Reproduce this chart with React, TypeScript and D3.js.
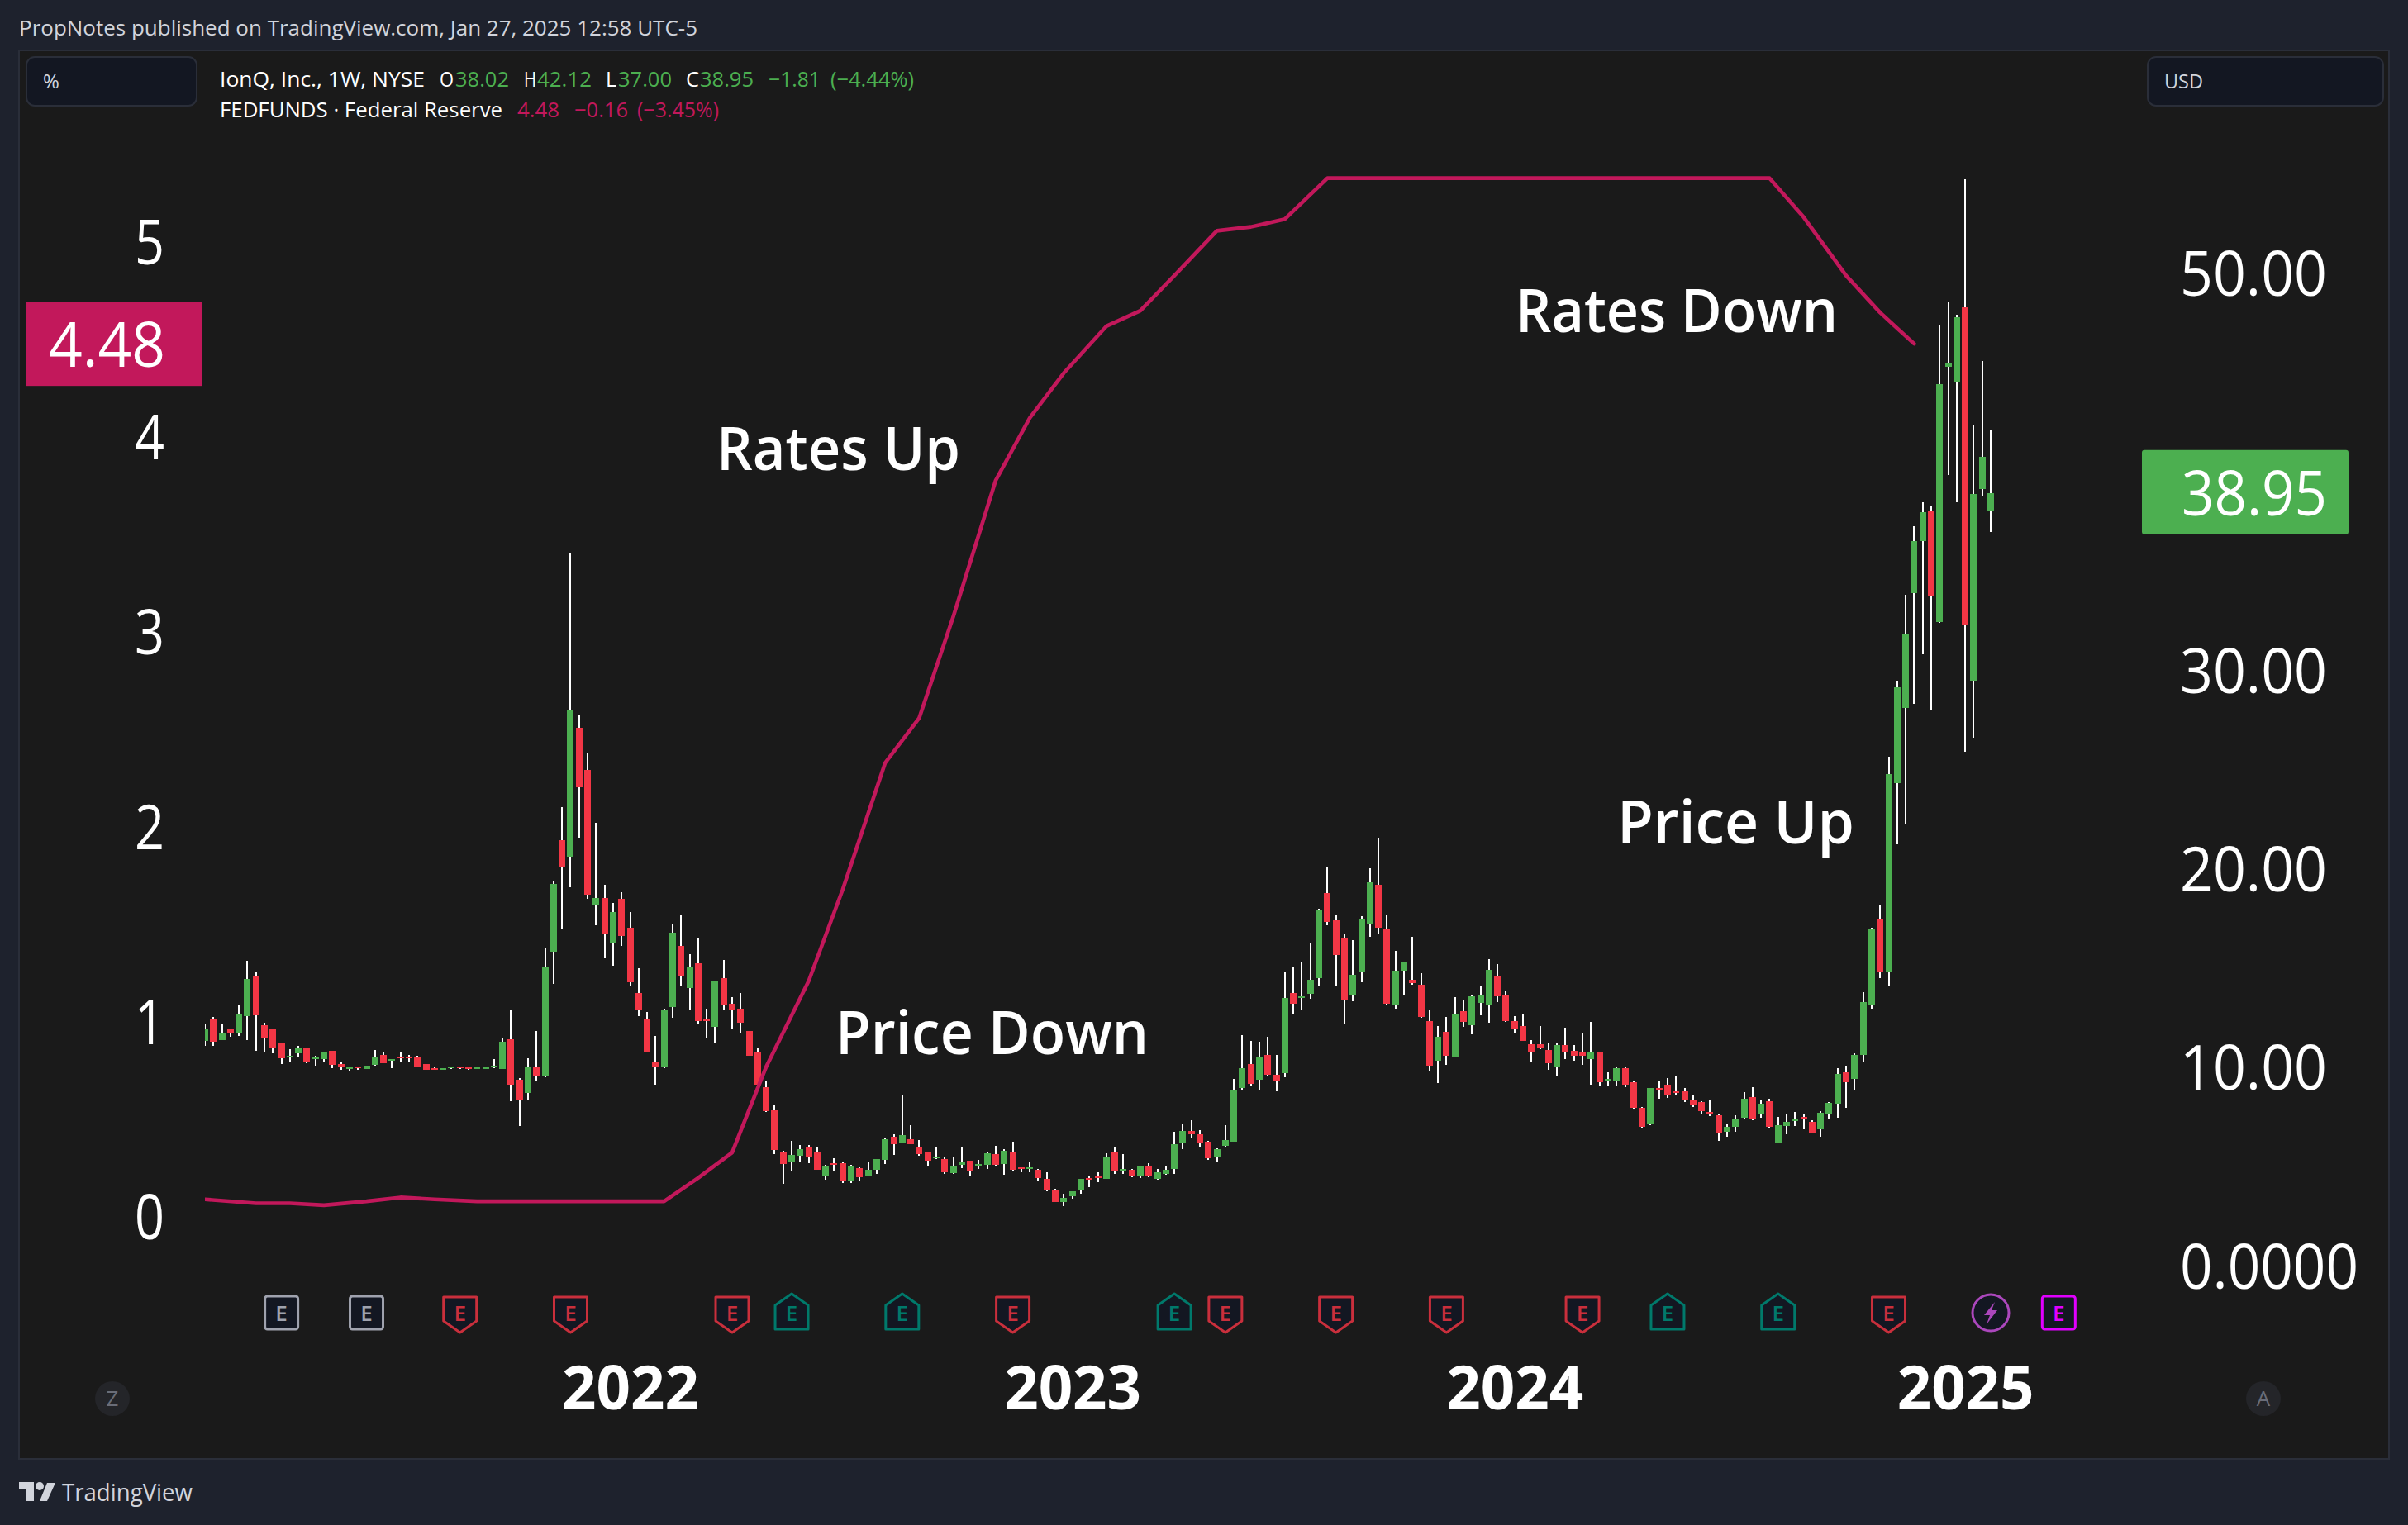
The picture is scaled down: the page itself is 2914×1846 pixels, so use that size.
import * as d3 from "d3";
import { useEffect, useRef } from "react";

const W = 2914;
const H = 1846;
const FONT = "'Open Sans', 'Noto Sans', sans-serif";

// weekly IONQ candles
const opens = [
  11.36,12.48,11.40,11.98,11.78,12.60,14.61,12.14,11.94,11.22,
  10.53,10.73,10.98,10.45,10.45,10.87,10.19,9.95,10.07,9.95,
  10.15,10.65,10.37,10.57,10.57,10.53,10.19,9.99,9.91,9.99,
  10.07,10.03,9.95,9.95,10.03,9.95,11.44,9.39,8.74,10.07,
  9.57,15.84,21.47,20.63,27.12,24.99,18.19,18.55,16.26,18.51,
  17.05,13.77,12.44,10.31,10.02,13.06,16.14,14.02,15.26,12.44,
  12.06,14.52,13.23,12.98,11.85,10.81,9.02,7.86,5.74,5.24,
  5.57,6.03,5.74,4.57,5.20,5.20,4.28,4.95,4.57,4.87,
  5.36,6.53,6.20,6.40,5.99,5.78,5.45,5.41,4.70,5.11,
  5.32,5.07,5.11,5.66,5.16,5.78,4.99,4.91,4.87,4.41,
  3.87,3.24,3.53,3.83,4.45,4.53,4.41,5.78,4.82,4.87,
  4.53,5.07,4.41,4.66,4.91,6.24,6.82,6.65,6.28,5.49,
  6.07,6.28,8.98,10.19,9.40,10.65,9.65,9.73,13.77,13.52,
  13.73,14.52,18.80,17.43,16.55,13.68,14.81,17.22,19.22,17.01,
  13.18,14.89,14.43,14.18,12.35,10.36,11.81,10.56,12.85,12.14,
  13.27,13.14,14.60,13.68,12.35,12.10,11.19,11.19,10.90,10.06,
  11.15,10.86,10.81,10.44,10.77,9.36,9.32,9.98,9.27,7.98,
  7.15,8.98,9.15,8.82,8.82,8.40,8.28,7.78,7.61,6.78,
  7.03,7.49,8.53,7.65,8.32,6.24,7.07,7.32,7.53,7.28,
  6.90,7.65,8.19,9.77,9.44,10.65,13.18,17.51,14.85,24.33,
  28.11,33.90,36.53,38.02,32.45,45.30,44.55,48.29,29.49,39.14,
  38.02,
];
const closes = [
  11.98,11.32,11.78,11.78,12.74,14.47,12.66,11.48,11.02,10.49,
  10.61,11.02,10.31,10.53,10.77,10.15,10.03,10.03,9.99,10.11,
  10.57,10.23,10.45,10.49,10.49,10.07,9.91,9.91,9.99,10.07,
  9.99,9.95,10.03,10.03,10.11,11.32,9.15,8.36,10.07,9.61,
  15.06,19.26,20.10,27.99,24.14,18.72,18.55,16.71,17.85,16.64,
  14.31,12.89,10.81,10.02,12.89,16.80,14.64,15.10,12.35,12.35,
  14.35,13.14,12.94,12.27,10.61,9.15,7.82,5.86,5.16,5.61,
  5.91,5.49,4.87,5.03,5.11,4.32,5.07,4.49,4.87,5.41,
  6.40,6.16,6.61,6.16,5.66,5.32,5.53,4.74,5.07,5.28,
  4.82,5.16,5.70,5.11,5.82,4.87,4.91,4.99,4.45,3.83,
  3.24,3.45,3.78,4.41,4.37,4.45,5.49,4.78,4.91,4.53,
  5.03,4.53,4.74,4.87,6.16,6.82,6.65,6.20,5.45,5.90,
  6.36,8.86,9.98,9.19,10.56,9.65,9.32,13.52,13.23,13.60,
  14.43,17.93,17.34,15.68,13.39,14.68,17.51,19.34,17.05,13.23,
  14.89,15.31,14.27,12.56,10.11,11.56,10.61,12.69,12.31,13.60,
  13.68,14.93,13.60,12.35,11.94,11.35,10.81,10.98,10.23,11.15,
  10.77,10.61,10.61,10.81,9.27,9.44,9.98,9.15,7.98,7.03,
  8.98,8.90,8.65,8.73,8.40,8.11,7.82,7.65,6.70,7.03,
  7.40,8.44,7.40,8.19,7.03,7.11,7.28,7.40,7.44,6.74,
  7.74,8.23,9.69,9.27,10.65,13.31,16.97,14.81,24.79,29.17,
  31.83,36.53,37.98,33.78,44.43,45.50,47.79,32.27,38.90,40.77,
  38.95,
];
const highs = [
  12.20,12.56,12.20,11.98,13.19,15.38,14.85,12.28,11.94,11.22,
  10.94,11.10,11.02,10.61,10.83,10.87,10.27,10.03,10.07,10.11,
  10.91,10.77,10.45,10.83,10.65,10.61,10.19,10.03,9.99,10.07,
  10.07,10.03,10.03,10.07,10.45,11.48,12.93,9.49,10.49,11.86,
  16.02,19.38,23.12,35.89,27.80,25.87,22.35,19.22,18.31,18.84,
  17.84,15.02,12.81,11.60,12.98,17.22,17.68,15.72,16.55,12.98,
  14.35,15.43,13.56,13.77,11.85,11.02,9.36,8.11,5.82,6.32,
  6.11,6.11,6.03,5.11,5.45,5.28,5.11,4.99,5.24,5.41,
  6.45,6.65,8.61,7.11,6.36,5.78,5.99,5.53,5.49,5.99,
  5.32,5.36,5.74,6.07,5.91,6.28,4.99,5.24,4.91,4.74,
  3.91,3.66,3.78,4.41,4.53,4.74,5.70,5.99,5.66,4.91,
  5.03,5.20,4.91,5.07,6.78,7.19,7.36,6.86,6.32,5.95,
  7.11,9.44,11.65,11.36,11.31,11.56,10.65,14.81,15.06,15.35,
  16.30,18.01,20.13,17.72,16.76,16.43,17.64,20.05,21.59,17.68,
  15.89,15.35,16.60,14.77,12.89,12.10,12.56,13.56,13.39,13.64,
  14.10,15.47,15.22,13.89,12.60,12.73,11.40,12.10,11.23,11.23,
  12.02,11.15,11.73,12.31,10.77,9.77,10.02,10.06,9.36,8.03,
  8.98,9.32,9.48,9.57,8.98,8.61,8.32,8.36,7.65,7.19,
  7.61,8.78,9.02,8.36,8.44,7.53,7.65,7.78,7.65,7.36,
  7.82,8.28,9.98,10.11,10.73,13.81,17.05,18.22,25.66,29.49,
  33.82,37.26,38.48,38.28,47.43,48.59,47.93,54.73,42.34,45.60,
  42.12,
];
const lows = [
  11.10,11.10,11.40,11.56,11.60,11.40,10.87,10.77,10.73,10.19,
  10.31,10.57,10.23,10.11,10.27,9.99,9.91,9.87,9.91,9.95,
  10.11,10.23,9.99,10.31,10.31,10.03,9.91,9.91,9.91,9.95,
  9.95,9.91,9.95,9.95,9.99,9.95,8.32,7.06,8.40,9.35,
  9.53,14.23,17.01,19.10,21.59,18.50,17.17,15.52,15.14,16.14,
  14.10,12.60,10.77,9.15,9.99,12.52,14.14,12.89,12.19,11.52,
  11.23,12.94,11.98,11.73,10.61,8.82,7.78,5.66,4.16,4.82,
  5.28,5.20,4.87,4.37,4.82,4.20,4.20,4.28,4.57,4.66,
  5.16,5.61,6.20,6.16,5.57,5.07,5.42,4.66,4.66,4.95,
  4.53,4.91,4.91,5.03,4.62,4.78,4.74,4.74,4.32,3.78,
  3.24,3.03,3.41,3.66,3.99,4.24,4.41,4.66,4.66,4.49,
  4.45,4.49,4.37,4.62,4.66,5.90,6.49,5.99,5.36,5.28,
  5.99,6.28,8.90,9.07,8.90,9.61,8.82,9.52,12.69,12.94,
  13.48,14.14,17.18,14.10,12.19,13.35,14.31,16.60,16.76,13.18,
  12.98,13.68,14.18,12.52,9.86,9.23,10.15,10.52,12.06,11.69,
  12.64,12.27,13.31,12.31,11.77,11.35,10.31,10.94,9.90,9.61,
  10.44,10.36,10.15,9.15,9.07,9.07,9.11,9.02,7.94,6.99,
  7.11,8.44,8.48,8.65,8.28,8.03,7.65,7.57,6.32,6.53,
  6.78,7.44,7.36,7.49,6.94,6.20,6.65,7.07,6.90,6.70,
  6.53,7.40,7.49,7.98,8.86,10.31,12.98,14.52,14.14,21.27,
  22.25,28.33,30.82,28.03,32.41,39.85,38.48,25.92,26.62,38.82,
  37.00,
];

// FEDFUNDS monthly prints and the bar each one lands on
const fedBars = [0,6,10,14,19,23,27,32,36,41,45,50,54,58,62,66,71,75,80,84,88,93,97,101,106,110,114,119,123,127,132,136,141,145,149,154,158,162,166,171,175,180,184,188,193,197,201];
const fedRates = [0.09,0.07,0.07,0.06,0.08,0.10,0.09,0.08,0.08,0.08,0.08,0.08,0.08,0.20,0.33,0.77,1.21,1.68,2.33,2.56,3.08,3.78,4.10,4.33,4.57,4.65,4.83,5.06,5.08,5.12,5.33,5.33,5.33,5.33,5.33,5.33,5.33,5.33,5.33,5.33,5.33,5.33,5.33,5.13,4.83,4.64,4.48];

const yearBars = [50, 102, 154, 207];
const yearLabels = ["2022", "2023", "2024", "2025"];
const priceTicks = [50, 30, 20, 10, 0];
const priceLabels = ["50.00", "30.00", "20.00", "10.00", "0.0000"];
const rateTicks = [0, 1, 2, 3, 4, 5];

const neutralEarnings = [9, 19];
const missEarnings = [30, 43, 62, 95, 120, 133, 146, 162, 198];
const beatEarnings = [69, 82, 114, 172, 185];
const dividendBar = [210];
const nextEarnings = [218];

const notes = [
  { text: "Rates Up", x: 867, y: 569, len: 295 },
  { text: "Rates Down", x: 1834, y: 402, len: 390 },
  { text: "Price Down", x: 1011, y: 1276, len: 379 },
  { text: "Price Up", x: 1957, y: 1021, len: 287 },
];

const legendRow1 = [
  { t: "IonQ, Inc., 1W, NYSE", x: 266, len: 248, c: "#ffffff" },
  { t: "O", x: 532, len: 17, c: "#ffffff" },
  { t: "38.02", x: 551, len: 65, c: "#4caf50" },
  { t: "H", x: 634, len: 15, c: "#ffffff" },
  { t: "42.12", x: 650, len: 66, c: "#4caf50" },
  { t: "L", x: 733, len: 13, c: "#ffffff" },
  { t: "37.00", x: 748, len: 65, c: "#4caf50" },
  { t: "C", x: 830, len: 16, c: "#ffffff" },
  { t: "38.95", x: 847, len: 65, c: "#4caf50" },
  { t: "−1.81", x: 930, len: 63, c: "#4caf50" },
  { t: "(−4.44%)", x: 1005, len: 101, c: "#4caf50" },
];
const legendRow2 = [
  { t: "FEDFUNDS · Federal Reserve", x: 266, len: 342, c: "#ffffff" },
  { t: "4.48", x: 626, len: 51, c: "#c2185b" },
  { t: "−0.16", x: 695, len: 65, c: "#c2185b" },
  { t: "(−3.45%)", x: 771, len: 99, c: "#c2185b" },
];

export default function App() {
  const svgRef = useRef<SVGSVGElement>(null);

  useEffect(() => {
    if (!svgRef.current) return;
    const svg = d3.select(svgRef.current);
    svg.selectAll("*").remove();

    const xScale = d3.scaleLinear().domain([0, 210]).range([248, 2409]);
    const yPrice = d3.scaleLinear().domain([0, 50]).range([1533, 331]);
    const yRate = d3.scaleLinear().domain([0, 5]).range([1473, 293.5]);
    const px = (i: number) => Math.round(xScale(i));

    const label = (t: string, x: number, y: number, size: number, color: string, weight = 400, len?: number) => {
      const el = svg.append("text")
        .attr("x", x).attr("y", y)
        .attr("font-family", FONT).attr("font-size", size).attr("font-weight", weight)
        .attr("fill", color).text(t);
      if (len) el.attr("textLength", len).attr("lengthAdjust", "spacingAndGlyphs");
      return el;
    };

    // page and pane
    svg.append("rect").attr("width", W).attr("height", H).attr("fill", "#1e222d");
    svg.append("rect").attr("x", 23).attr("y", 61).attr("width", 2868).attr("height", 1705)
      .attr("fill", "#1a1a1a").attr("stroke", "#2a2e39").attr("stroke-width", 2);
    label("PropNotes published on TradingView.com, Jan 27, 2025 12:58 UTC-5", 23, 43, 25, "#d1d4dc", 400, 821);

    svg.append("defs").append("clipPath").attr("id", "pane")
      .append("rect").attr("x", 248).attr("y", 61).attr("width", 2643).attr("height", 1705);

    // scale buttons
    [[32, 206], [2599, 285]].forEach(([x, w]) => {
      svg.append("rect").attr("x", x).attr("y", 69).attr("width", w).attr("height", 59).attr("rx", 10)
        .attr("fill", "#131722").attr("stroke", "#2a2e39").attr("stroke-width", 2);
    });
    label("%", 52, 107, 24, "#d1d4dc");
    label("USD", 2619, 107, 24, "#d1d4dc", 500, 47);

    legendRow1.forEach((d) => label(d.t, d.x, 105, 25, d.c, 400, d.len));
    legendRow2.forEach((d) => label(d.t, d.x, 142, 25, d.c, 400, d.len));

    // candles
    const bars = d3.range(opens.length);
    const plot = svg.append("g").attr("clip-path", "url(#pane)");
    plot.append("g").attr("shape-rendering", "crispEdges").selectAll("rect").data(bars).join("rect")
      .attr("x", (i) => px(i) - 1).attr("width", 2)
      .attr("y", (i) => yPrice(highs[i]))
      .attr("height", (i) => yPrice(lows[i]) - yPrice(highs[i]))
      .attr("fill", "#ffffff");
    plot.append("g").attr("shape-rendering", "crispEdges").selectAll("rect").data(bars).join("rect")
      .attr("x", (i) => px(i) - 4).attr("width", 8)
      .attr("y", (i) => yPrice(Math.max(opens[i], closes[i])))
      .attr("height", (i) => Math.max(2, Math.abs(yPrice(opens[i]) - yPrice(closes[i]))))
      .attr("fill", (i) => (closes[i] >= opens[i] ? "#4caf50" : "#f23645"));

    // fed funds line
    const fedLine = d3.line<number>()
      .x((_, k) => xScale(fedBars[k]))
      .y((d) => yRate(d));
    plot.append("path").datum(fedRates)
      .attr("fill", "none").attr("stroke", "#c2185b").attr("stroke-width", 4.6)
      .attr("stroke-linejoin", "round").attr("stroke-linecap", "round")
      .attr("d", fedLine);

    // left, right and bottom axes
    const styleAxis = (g: any, size: number, weight: number, anchor: string) => {
      g.select(".domain").remove();
      g.selectAll("text").attr("font-family", FONT).attr("font-size", size)
        .attr("font-weight", weight).attr("fill", "#ffffff").attr("text-anchor", anchor);
    };
    const leftAxis = svg.append("g").attr("transform", "translate(181,0)")
      .call(d3.axisLeft(yRate).tickValues(rateTicks).tickSize(0).tickPadding(0).tickFormat(d3.format("d")));
    styleAxis(leftAxis, 75, 500, "middle");
    leftAxis.selectAll("text").attr("dy", "0.35em").attr("textLength", 36).attr("lengthAdjust", "spacingAndGlyphs");

    const rightAxis = svg.append("g").attr("transform", "translate(2638,0)")
      .call(d3.axisRight(yPrice).tickValues(priceTicks).tickSize(0).tickPadding(0)
        .tickFormat((_, k) => priceLabels[k]));
    styleAxis(rightAxis, 75, 500, "start");
    rightAxis.selectAll("text")
      .attr("dy", "0.35em")
      .attr("textLength", (_: any, k: number) => (k === 4 ? 216 : 178))
      .attr("lengthAdjust", "spacingAndGlyphs");

    const bottomAxis = svg.append("g").attr("transform", "translate(0,1706)")
      .call(d3.axisBottom(xScale).tickValues(yearBars).tickSize(0).tickPadding(0)
        .tickFormat((_, k) => yearLabels[k]));
    styleAxis(bottomAxis, 73, 700, "middle");
    bottomAxis.selectAll("text").attr("dy", 0).attr("y", 0)
      .attr("textLength", 166).attr("lengthAdjust", "spacingAndGlyphs");

    // last value tags
    svg.append("rect").attr("x", 32).attr("y", yRate(4.48) - 51).attr("width", 213).attr("height", 102)
      .attr("fill", "#c2185b");
    label("4.48", 59, yRate(4.48) + 28, 75, "#ffffff", 500, 141);
    svg.append("rect").attr("x", 2592).attr("y", yPrice(38.95) - 52).attr("width", 250).attr("height", 102).attr("rx", 3)
      .attr("fill", "#4caf50");
    label("38.95", 2640, yPrice(38.95) + 27, 75, "#ffffff", 500, 176);

    notes.forEach((n) => label(n.text, n.x, n.y, 73, "#ffffff", 600, n.len));

    // earnings markers
    const markers = svg.append("g").attr("transform", "translate(0,-1)");
    const eText = (cx: number, color: string) => {
      markers.append("text").attr("x", cx).attr("y", 1600).attr("text-anchor", "middle")
        .attr("font-family", FONT).attr("font-size", 26).attr("font-weight", 600).attr("fill", color).text("E");
    };
    const box = (cx: number, color: string) => {
      markers.append("rect").attr("x", cx - 20).attr("y", 1570).attr("width", 40).attr("height", 40).attr("rx", 3)
        .attr("fill", "#131722").attr("stroke", color).attr("stroke-width", 3);
      eText(cx, color);
    };
    const pointer = (cx: number, color: string, down: boolean) => {
      const pts = down
        ? [[-20, 1571], [20, 1571], [20, 1600], [0, 1614], [-20, 1600]]
        : [[-20, 1610], [20, 1610], [20, 1581], [0, 1567], [-20, 1581]];
      markers.append("path")
        .attr("d", d3.line().curve(d3.curveLinearClosed)(pts.map(([a, b]) => [cx + a, b]) as [number, number][]))
        .attr("fill", "#131722").attr("stroke", color).attr("stroke-width", 3).attr("stroke-linejoin", "round");
      eText(cx, color);
    };
    neutralEarnings.forEach((i) => box(xScale(i), "#9fa2ae"));
    missEarnings.forEach((i) => pointer(xScale(i), "#c92f3c", true));
    beatEarnings.forEach((i) => pointer(xScale(i), "#00796b", false));
    nextEarnings.forEach((i) => box(xScale(i), "#e000ff"));
    dividendBar.forEach((i) => {
      const cx = xScale(i);
      markers.append("circle").attr("cx", cx).attr("cy", 1590).attr("r", 22)
        .attr("fill", "#131722").attr("stroke", "#ab47bc").attr("stroke-width", 3);
      markers.append("path")
        .attr("d", d3.line()([[cx + 5, 1577], [cx - 8, 1593], [cx - 1, 1593], [cx - 5, 1604], [cx + 8, 1587], [cx + 1, 1587]] as [number, number][]) + "Z")
        .attr("fill", "#ab47bc");
    });

    // corner badges
    [["Z", 136], ["A", 2739]].forEach(([t, x]) => {
      svg.append("circle").attr("cx", x as number).attr("cy", 1693).attr("r", 21).attr("fill", "#242529");
      label(t as string, x as number, 1702, 26, "#6a6d78").attr("text-anchor", "middle");
    });

    // TradingView mark
    const logo = svg.append("g").attr("fill", "#d1d4dc");
    logo.append("path").attr("d", "M23 1794H41V1817H32V1803H23Z");
    logo.append("circle").attr("cx", 48).attr("cy", 1799).attr("r", 5);
    logo.append("path").attr("d", "M57 1795H67L57 1817H48Z");
    label("TradingView", 75, 1817, 29, "#d1d4dc", 400, 158);
  }, []);

  return <svg ref={svgRef} width={W} height={H} style={{ position: "fixed", left: 0, top: 0 }} />;
}
